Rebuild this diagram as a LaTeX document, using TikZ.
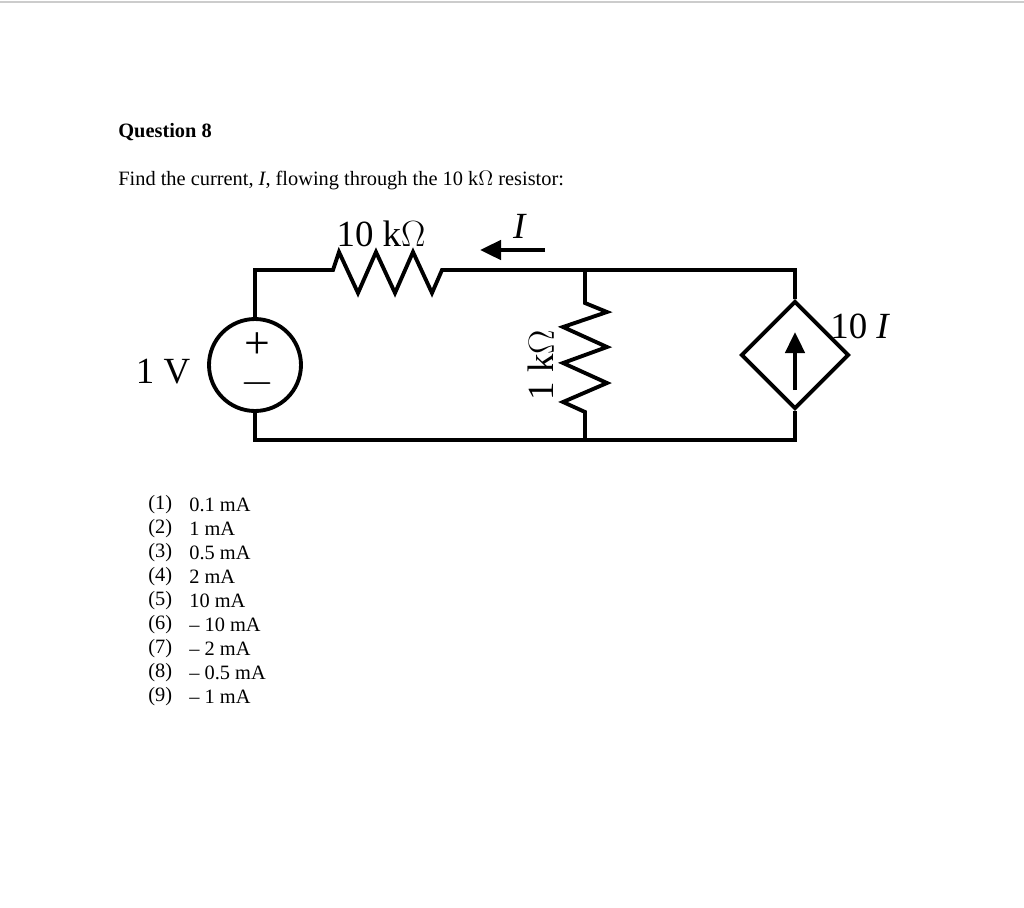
\documentclass[tikz,border=0pt]{standalone}
\usepackage{fontspec}
\setmainfont{Liberation Serif}
\usetikzlibrary{arrows.meta,shapes.geometric}
\begin{document}
\begin{tikzpicture}
    [%%%%%%%%%%%%%%%%%%%%%%%%%%%%%%
        x=0.02cm,y=-0.02cm,
        wire/.style={line width=2.2pt,line join=miter},
        lbl/.style={font=\fontsize{21}{23}\selectfont,inner sep=0pt},
        sgn/.style={font=\fontsize{26}{28}\selectfont,inner sep=0pt},
        txt/.style={font=\fontsize{11.6}{13}\selectfont,inner sep=0pt,anchor=west},
    ]%%%%%%%%%%%%%%%%%%%%%%%%%%%%%%
\useasboundingbox (0,0) rectangle (1024,907);
\draw[gray!40,line width=1pt] (0,2) -- (1024,2);
\node[txt,font=\fontsize{11.6}{13}\selectfont\bfseries] (q) at (118,132) {Question 8};
\node[txt] (f) at (118,180) {Find the current, \textit{I}, flowing through the 10 k$\Omega$ resistor:};

\coordinate (tl) at (255,270);
\coordinate (bl) at (255,440);
\coordinate (tm) at (585,270);
\coordinate (bm) at (585,440);
\coordinate (tr) at (795,270);
\coordinate (br) at (795,440);

\node[circle,draw,line width=2.2pt,minimum size=1.84cm,inner sep=0pt] (vs) at (255,365) {};
\node[sgn] (plus) at (257,346) {+};
\node[sgn] (minus) at (257,384) {$-$};
\node[diamond,draw,line width=2.2pt,minimum width=2.16cm,minimum height=2.16cm,inner sep=0pt] (cs) at (795,355) {};

% wires
\draw[wire] (vs.north) -- (tl) -- (333,270) -- (339,252) -- (358,293) -- (376,252) -- (395,293) -- (413,252) -- (432,293) -- (442,270) -- (tr) -- (cs.north);
\draw[wire] (vs.south) -- (bl) -- (br) -- (cs.south);
\draw[wire] (tm) -- (585,303) -- (607,312) -- (563,327) -- (607,347) -- (563,363) -- (607,383) -- (563,402) -- (585,412) -- (bm);

% arrows
\coordinate (ia) at (545,250);
\coordinate (ib) at (480,250);
\draw[wire,-{Triangle[length=12pt,width=11pt]}] (ia) -- (ib);
\draw[wire,-{Triangle[length=12pt,width=11pt]}] (795,390) -- (795,332);

% labels
\node[lbl] (r1) at (381,234) {10 k$\Omega$};
\node[lbl] (il) at (520,226) {\textit{I}};
\node[lbl,rotate=90] (r2) at (541,365) {1 k$\Omega$};
\node[lbl] (v1) at (163,372) {1 V};
\node[lbl,anchor=west] (cl) at (830,326) {10 \textit{I}};

% answers
\foreach \n/\a [count=\i] in {1/0.1 mA,2/1 mA,3/0.5 mA,4/2 mA,5/10 mA,6/-- 10 mA,7/-- 2 mA,8/-- 0.5 mA,9/-- 1 mA}{
  \node[txt] (n\i) at (148,481+24*\i) {(\n)};
  \node[txt] (a\i) at (189,481+24*\i) {\a};
}
\end{tikzpicture}
\end{document}
